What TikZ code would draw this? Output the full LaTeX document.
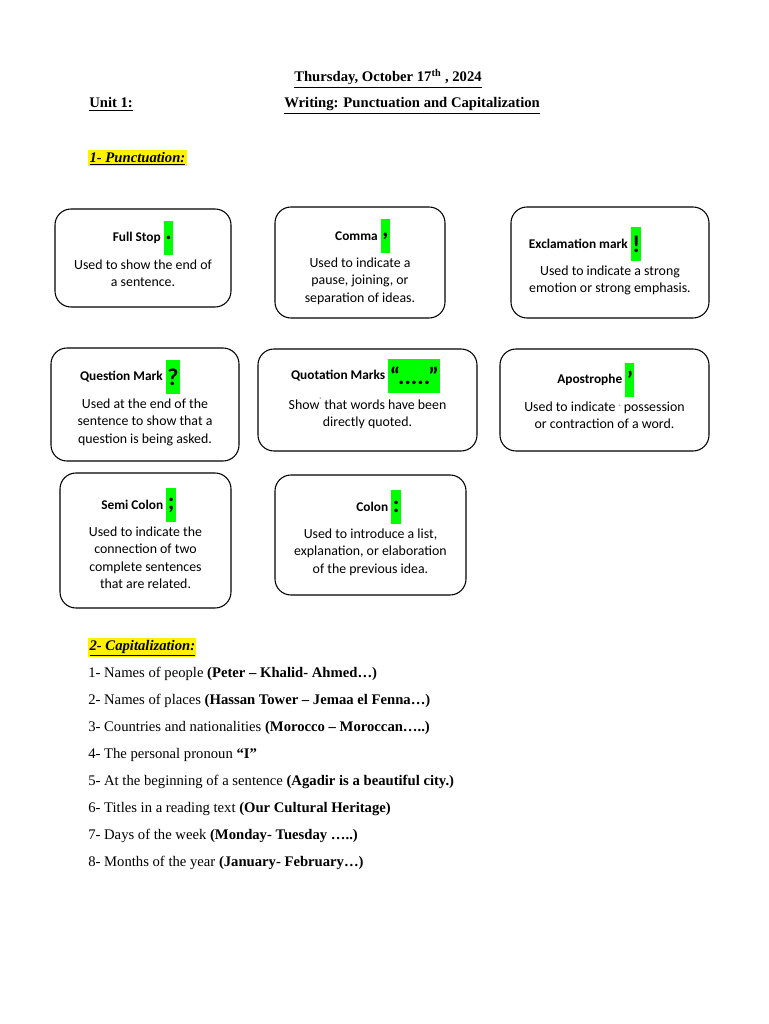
\documentclass[tikz,border=0pt]{standalone}
\usepackage{fontspec}
\setmainfont{Liberation Serif}
\newfontfamily\boxfont{Carlito}
\usetikzlibrary{positioning}
\tikzset{
  card/.style={draw,thick,rounded corners=12pt,inner sep=0pt},
  cardhead/.style={font=\boxfont\bfseries\fontsize{10}{11}\selectfont,inner sep=0pt,anchor=east},
  cardtext/.style={font=\boxfont\fontsize{10.4}{12.8}\selectfont,align=center,inner sep=0pt,anchor=north},
  punctmark/.style={fill=green,font=\boxfont\bfseries\fontsize{18}{18}\selectfont,inner sep=1pt,anchor=west,minimum height=26pt},
  line/.style={font=\fontsize{11}{12}\selectfont,anchor=base west,inner sep=0pt},
}
\newcommand{\card}[9]{% name, x1, y1, x2, y2, title, mark, head y, text
  \node[card,minimum width={(#4-#2)*0.75pt},minimum height={(#5-#3)*0.75pt}] (#1) at ({(#2+#4)/2},{(#3+#5)/2}) {};
  \node[cardhead] (#1-head) at ({(#2+#4)/2+18},#8) {#6};
  \node[punctmark] (#1-mark) at ([xshift=2pt]#1-head.east) {#7};
  \node[cardtext] (#1-text) at ({(#2+#4)/2},{#8+22}) {#9};
}
\begin{document}
\begin{tikzpicture}[x=0.75pt,y=-0.75pt]
  \useasboundingbox (0,0) rectangle (768,1024);
  \node[line,anchor=base,font=\bfseries\fontsize{11}{12}\selectfont] (date) at (388,82) {\underline{Thursday, October 17\textsuperscript{th} , 2024}};
  \node[line,font=\bfseries\fontsize{11}{12}\selectfont] (unit) at (89,108) {\underline{Unit 1:}};
  \node[line,font=\bfseries\fontsize{11}{12}\selectfont] (topic) at (284,108) {\underline{Writing: Punctuation and Capitalization}};
  \node[line,fill=yellow,inner sep=1pt,font=\bfseries\itshape\fontsize{11}{12}\selectfont] (punct) at (88,162) {\underline{1- Punctuation:}};
  % cards
  \card{full}{55}{209}{231}{307}{Full Stop}{.}{238}{Used to show the end of\\a sentence.}
  \card{comma}{275}{207}{445}{318}{Comma}{,}{236}{Used to indicate a\\pause, joining, or\\separation of ideas.}
  \card{excl}{511}{207}{709}{318}{Exclamation mark}{!}{244}{Used to indicate a strong\\emotion or strong emphasis.}
  \card{quest}{51}{348}{239}{461}{Question Mark}{?}{377}{Used at the end of the\\sentence to show that a\\question is being asked.}
  \card{quot}{258}{349}{477}{451}{Quotation Marks}{“.....”}{376}{Show\raisebox{1ex}{\tiny’} that words have been\\directly quoted.}
  \card{apos}{500}{349}{709}{451}{Apostrophe\hspace{8pt}}{’}{380}{Used to indicate \raisebox{.6ex}{\tiny-} possession\\or contraction of a word.}
  \card{semi}{60}{473}{231}{608}{Semi Colon}{;}{505}{Used to indicate the\\connection of two\\complete sentences\\that are related.}
  \card{colon}{275}{475}{466}{595}{Colon}{:}{507}{Used to introduce a list,\\explanation, or elaboration\\of the previous idea.}
  % capitalization
  \node[line,fill=yellow,inner sep=1pt,font=\bfseries\itshape\fontsize{11}{12}\selectfont] (capit) at (88,650) {\underline{2- Capitalization:}};
  \node[line] (c1) at (88,677) {1- Names of people \textbf{(Peter – Khalid- Ahmed…)}};
  \node[line] (c2) at (88,704) {2- Names of places \textbf{(Hassan Tower – Jemaa el Fenna…)}};
  \node[line] (c3) at (88,731) {3- Countries and nationalities \textbf{(Morocco – Moroccan…..)}};
  \node[line] (c4) at (88,758) {4- The personal pronoun \textbf{“I”}};
  \node[line] (c5) at (88,785) {5- At the beginning of a sentence \textbf{(Agadir is a beautiful city.)}};
  \node[line] (c6) at (88,812) {6- Titles in a reading text \textbf{(Our Cultural Heritage)}};
  \node[line] (c7) at (88,839) {7- Days of the week \textbf{(Monday- Tuesday …..)}};
  \node[line] (c8) at (88,866) {8- Months of the year \textbf{(January- February…)}};
\end{tikzpicture}
\end{document}
